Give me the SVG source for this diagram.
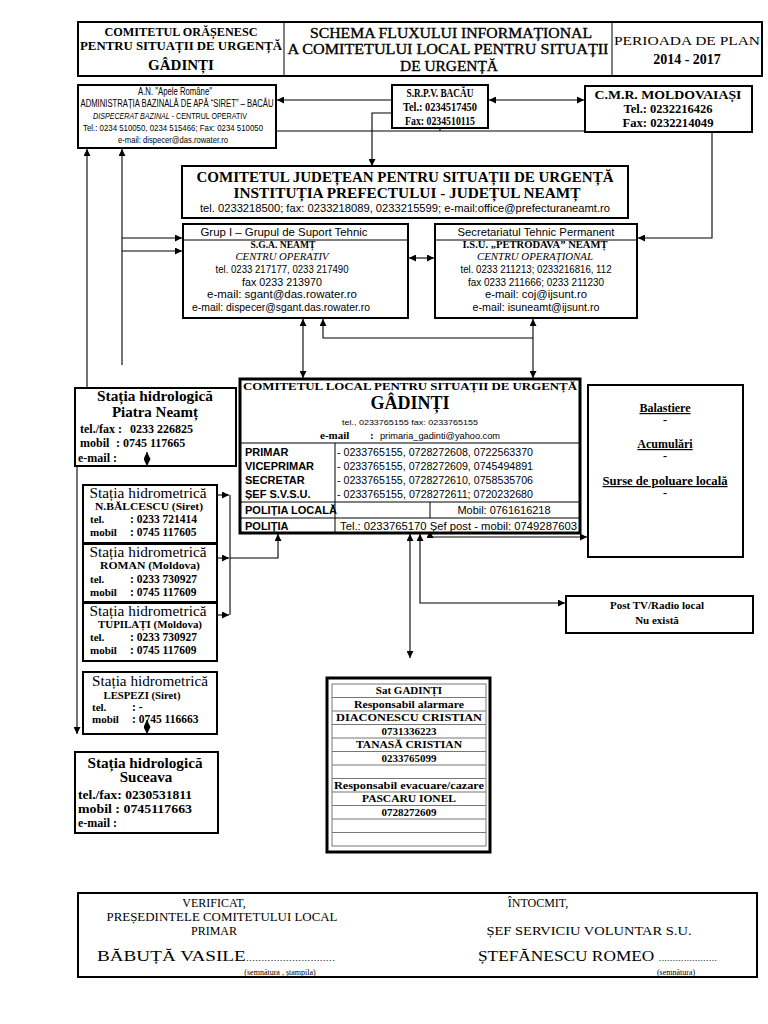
<svg xmlns="http://www.w3.org/2000/svg" width="768" height="1024" viewBox="0 0 768 1024">
<style>
.bg{fill:#fff}
.box{fill:#fff;stroke:#000;stroke-width:2}
.box3{fill:#fff;stroke:#000;stroke-width:3}
.ln{fill:none;stroke:#000;stroke-width:1}
.gl{fill:none;stroke:#777;stroke-width:1}
.con{fill:none;stroke:#000;stroke-width:1.1}
.s{font-family:"Liberation Serif","Times New Roman",serif;fill:#000}
.b{font-weight:bold}
.i{font-style:italic}
.n{font-family:"Liberation Sans Narrow","Liberation Sans",Arial,sans-serif;fill:#000}
.c{text-anchor:middle}
.u{text-decoration:underline}
</style>
<defs>
<marker id="ah" viewBox="0 0 10 10" refX="10" refY="5" markerWidth="8" markerHeight="7" markerUnits="userSpaceOnUse" orient="auto-start-reverse"><path d="M0,0 L10,5 L0,10 z" fill="#000"/></marker>
</defs>
<rect class="bg" x="0" y="0" width="768" height="1024"/>

<g id="connectors">
<path class="con" d="M392,100 H277" marker-end="url(#ah)"/>
<path class="con" d="M489,100 H584" marker-start="url(#ah)" marker-end="url(#ah)"/>
<path class="con" d="M392,113 H372 V166" marker-end="url(#ah)"/>
<path class="con" d="M276,131 H585"/>
<path class="con" d="M440,128 V131"/>
<path class="con" d="M712,132 V238 H638" marker-end="url(#ah)"/>
<path class="con" d="M87,388 V149" marker-end="url(#ah)"/>
<path class="con" d="M122,365 V149" marker-end="url(#ah)"/>
<path class="con" d="M122,238 H182" marker-end="url(#ah)"/>
<path class="con" d="M122,251 H182" marker-end="url(#ah)"/>
<path class="con" d="M409,258 H434" marker-start="url(#ah)" marker-end="url(#ah)"/>
<path class="con" d="M303,319 V378" marker-start="url(#ah)" marker-end="url(#ah)"/>
<path class="con" d="M323,319 V338 H533" marker-start="url(#ah)"/>
<path class="con" d="M533,319 V378" marker-start="url(#ah)" marker-end="url(#ah)"/>
<path class="con" d="M77,453 V734" marker-start="url(#ah)" marker-end="url(#ah)"/>
<path class="con" d="M217,495 H229" marker-end="url(#ah)"/>
<path class="con" d="M217,558 H229" marker-end="url(#ah)"/>
<path class="con" d="M217,615 H229" marker-end="url(#ah)"/>
<path class="con" d="M230,495 V615"/>
<path class="con" d="M230,558 H278 V534" marker-end="url(#ah)"/>
<path class="con" d="M410,534 V658" marker-start="url(#ah)" marker-end="url(#ah)"/>
<path class="con" d="M420,534 V603 H565" marker-start="url(#ah)" marker-end="url(#ah)"/>
<path class="con" d="M430,531 V537 H587" marker-start="url(#ah)" marker-end="url(#ah)"/>
</g>

<g id="header">
<rect class="box" x="78" y="22" width="684" height="54"/>
<line class="ln" x1="284" y1="22" x2="284" y2="76" stroke-width="2"/>
<line class="ln" x1="612" y1="22" x2="612" y2="76" stroke-width="2"/>
<text class="s b c" x="181" y="36" font-size="12" textLength="153" lengthAdjust="spacingAndGlyphs">COMITETUL ORĂȘENESC</text>
<text class="s b c" x="181" y="50" font-size="12" textLength="202" lengthAdjust="spacingAndGlyphs">PENTRU SITUAȚII DE URGENȚĂ</text>
<text class="s b c" x="181" y="70" font-size="15">GÂDINȚI</text>
<text class="s c" x="451" y="38" font-size="15" stroke="#000" stroke-width="0.35" textLength="282" lengthAdjust="spacingAndGlyphs">SCHEMA FLUXULUI INFORMAȚIONAL</text>
<text class="s c" x="448" y="54" font-size="15" stroke="#000" stroke-width="0.35" textLength="321" lengthAdjust="spacingAndGlyphs">A COMITETULUI LOCAL PENTRU SITUAȚII</text>
<text class="s c" x="449" y="71" font-size="15" stroke="#000" stroke-width="0.35" textLength="98" lengthAdjust="spacingAndGlyphs">DE URGENȚĂ</text>
<text class="s c" x="687" y="45" font-size="12" textLength="146" lengthAdjust="spacingAndGlyphs">PERIOADA DE PLAN</text>
<text class="s b c" x="687" y="64" font-size="14">2014 - 2017</text>
</g>

<g id="apele-romane">
<rect class="box" x="78" y="85" width="198" height="63"/>
<text class="n c" x="175" y="95" font-size="10" textLength="74" lengthAdjust="spacingAndGlyphs">A.N. "Apele Române"</text>
<text class="n c" x="177" y="107" font-size="10" textLength="193" lengthAdjust="spacingAndGlyphs">ADMINISTRAȚIA BAZINALĂ DE APĂ “SIRET” – BACĂU</text>
<text transform="translate(93,119) scale(0.752,1)" x="0" y="0" font-family="'Liberation Sans',Arial,sans-serif" font-size="9.5" fill="#000"><tspan font-style="italic">DISPECERAT BAZINAL</tspan> - CENTRUL OPERATIV</text>
<text class="n c" x="173" y="131" font-size="9.5" textLength="180" lengthAdjust="spacingAndGlyphs">Tel.: 0234 510050, 0234 515466; Fax: 0234 510050</text>
<text class="n c" x="173" y="143" font-size="9.5" textLength="110" lengthAdjust="spacingAndGlyphs">e-mail: dispecer@das.rowater.ro</text>
</g>

<g id="srpv-bacau">
<rect class="box" x="392" y="85" width="96" height="43"/>
<text class="s b c" x="440" y="97" font-size="11.5" textLength="67" lengthAdjust="spacingAndGlyphs">S.R.P.V. BACĂU</text>
<text class="s b c" x="440" y="111" font-size="11.5" textLength="74" lengthAdjust="spacingAndGlyphs">Tel.: 0234517450</text>
<text class="s b c" x="440" y="125" font-size="11.5" textLength="70" lengthAdjust="spacingAndGlyphs">Fax: 0234510115</text>
</g>

<g id="cmr-moldova">
<rect class="box" x="585" y="86" width="167" height="46"/>
<text class="s b c" x="668" y="99" font-size="12.5" textLength="147" lengthAdjust="spacingAndGlyphs">C.M.R. MOLDOVAIAȘI</text>
<text class="s b c" x="668" y="113" font-size="12.5" textLength="89" lengthAdjust="spacingAndGlyphs">Tel.: 0232216426</text>
<text class="s b c" x="668" y="127" font-size="12.5" textLength="91" lengthAdjust="spacingAndGlyphs">Fax: 0232214049</text>
</g>

<g id="cjsu-neamt">
<rect class="box" x="182" y="166" width="446" height="52" stroke-width="2.5"/>
<text class="s b c" x="405" y="182" font-size="15" textLength="417" lengthAdjust="spacingAndGlyphs">COMITETUL JUDEȚEAN PENTRU SITUAȚII DE URGENȚĂ</text>
<text class="s b c" x="407" y="198" font-size="15" textLength="347" lengthAdjust="spacingAndGlyphs">INSTITUȚIA PREFECTULUI -  JUDEȚUL NEAMȚ</text>
<text class="n c" x="405" y="212" font-size="11" textLength="410" lengthAdjust="spacingAndGlyphs">tel. 0233218500; fax: 0233218089, 0233215599; e-mail:office@prefecturaneamt.ro</text>
</g>

<g id="grup-suport">
<rect class="box" x="183" y="224" width="225" height="94"/>
<line class="ln" x1="183" y1="240" x2="408" y2="240"/>
<text class="n c" x="284" y="236" font-size="11" textLength="167" lengthAdjust="spacingAndGlyphs">Grup I – Grupul de Suport Tehnic</text>
<text class="s b c" x="283" y="248" font-size="9.5" textLength="65" lengthAdjust="spacingAndGlyphs">S.G.A. NEAMȚ</text>
<text class="s i c" x="282" y="260" font-size="10.5" textLength="93" lengthAdjust="spacingAndGlyphs">CENTRU OPERATIV</text>
<text class="n c" x="282" y="273" font-size="10.5" textLength="133" lengthAdjust="spacingAndGlyphs">tel. 0233 217177, 0233 217490</text>
<text class="n c" x="282" y="286" font-size="10.5" textLength="80" lengthAdjust="spacingAndGlyphs">fax 0233 213970</text>
<text class="n c" x="282" y="298" font-size="10.5" textLength="150" lengthAdjust="spacingAndGlyphs">e-mail: sgant@das.rowater.ro</text>
<text class="n c" x="281" y="311" font-size="10.5" textLength="178" lengthAdjust="spacingAndGlyphs">e-mail: dispecer@sgant.das.rowater.ro</text>
</g>

<g id="secretariat">
<rect class="box" x="435" y="224" width="202" height="94"/>
<line class="ln" x1="435" y1="240" x2="637" y2="240"/>
<text class="n c" x="536" y="236" font-size="11" textLength="157" lengthAdjust="spacingAndGlyphs">Secretariatul Tehnic Permanent</text>
<text class="s b c" x="535" y="248" font-size="9.5" textLength="145" lengthAdjust="spacingAndGlyphs">I.S.U. „PETRODAVA” NEAMȚ</text>
<text class="s i c" x="535" y="260" font-size="10.5" textLength="116" lengthAdjust="spacingAndGlyphs">CENTRU OPERAȚIONAL</text>
<text class="n c" x="536" y="273" font-size="10.5" textLength="151" lengthAdjust="spacingAndGlyphs">tel. 0233 211213; 0233216816, 112</text>
<text class="n c" x="536" y="286" font-size="10.5" textLength="136" lengthAdjust="spacingAndGlyphs">fax 0233 211666; 0233 211230</text>
<text class="n c" x="536" y="298" font-size="10.5" textLength="102" lengthAdjust="spacingAndGlyphs">e-mail: coj@ijsunt.ro</text>
<text class="n c" x="536" y="311" font-size="10.5" textLength="127" lengthAdjust="spacingAndGlyphs">e-mail: isuneamt@ijsunt.ro</text>
</g>

<g id="clsu-gadinti">
<rect class="box3" x="240" y="379" width="340" height="154"/>
<text class="s b" x="243" y="390" font-size="10.5" textLength="334" lengthAdjust="spacingAndGlyphs">COMITETUL LOCAL PENTRU SITUAȚII DE URGENȚĂ</text>
<text class="s b c" x="410" y="409" font-size="18">GÂDINȚI</text>
<text class="n c" x="410" y="425" font-size="8" textLength="136" lengthAdjust="spacingAndGlyphs">tel., 0233765155  fax: 0233765155</text>
<text class="s b" x="320" y="439" font-size="11">e-mail</text>
<text class="s b" x="370" y="439" font-size="11">:</text>
<text class="n" x="380" y="439" font-size="9" textLength="120" lengthAdjust="spacingAndGlyphs">primaria_gadinti@yahoo.com</text>
<line class="ln" x1="240" y1="443" x2="580" y2="443"/>
<line class="ln" x1="335" y1="443" x2="335" y2="533"/>
<line class="ln" x1="240" y1="502" x2="580" y2="502"/>
<line class="ln" x1="240" y1="518" x2="580" y2="518"/>
<line class="ln" x1="430" y1="502" x2="430" y2="518"/>
<text class="n b" x="245" y="456" font-size="11">PRIMAR</text>
<text class="n b" x="245" y="470" font-size="11">VICEPRIMAR</text>
<text class="n b" x="245" y="484" font-size="11">SECRETAR</text>
<text class="n b" x="245" y="498" font-size="11">ȘEF S.V.S.U.</text>
<text class="n b" x="245" y="514" font-size="11">POLIȚIA LOCALĂ</text>
<text class="n b" x="245" y="530" font-size="11">POLIȚIA</text>
<text class="n" x="337" y="456" font-size="11" textLength="196" lengthAdjust="spacingAndGlyphs">- 0233765155, 0728272608, 0722563370</text>
<text class="n" x="337" y="470" font-size="11" textLength="196" lengthAdjust="spacingAndGlyphs">- 0233765155, 0728272609, 0745494891</text>
<text class="n" x="337" y="484" font-size="11" textLength="196" lengthAdjust="spacingAndGlyphs">- 0233765155, 0728272610, 0758535706</text>
<text class="n" x="337" y="498" font-size="11" textLength="196" lengthAdjust="spacingAndGlyphs">- 0233765155, 0728272611; 0720232680</text>
<text class="n c" x="504" y="514" font-size="11" textLength="93" lengthAdjust="spacingAndGlyphs">Mobil: 0761616218</text>
<text class="n" x="340" y="530" font-size="11" textLength="237" lengthAdjust="spacingAndGlyphs">Tel.:  0233765170  Șef post - mobil: 0749287603</text>
</g>

<g id="riscuri-locale">
<rect class="box" x="588" y="385" width="155" height="172"/>
<text class="s b c u" x="665" y="412" font-size="12">Balastiere </text>
<text class="s b c" x="665" y="424" font-size="12">-</text>
<text class="s b c u" x="665" y="448" font-size="12">Acumulări</text>
<text class="s b c" x="665" y="460" font-size="12">-</text>
<text class="s b c u" x="665" y="485" font-size="12" textLength="125" lengthAdjust="spacingAndGlyphs">Surse de poluare locală</text>
<text class="s b c" x="665" y="497" font-size="12">-</text>
</g>

<g id="statia-piatra-neamt">
<rect class="box" x="75" y="388" width="161" height="78"/>
<text class="s b c" x="155" y="401" font-size="15" textLength="116" lengthAdjust="spacingAndGlyphs">Stația hidrologică</text>
<text class="s b c" x="155" y="417" font-size="15">Piatra Neamț</text>
<text class="s b" x="80" y="433" font-size="12">tel./fax :</text>
<text class="s b" x="130" y="433" font-size="12">0233 226825</text>
<text class="s b" x="80" y="447" font-size="12">mobil</text>
<text class="s b" x="116" y="447" font-size="12">:  0745 117665</text>
<text class="s b" x="78" y="462" font-size="12">e-mail  :</text>
<path class="con" d="M147,452 V466" marker-start="url(#ah)" marker-end="url(#ah)"/>
</g>

<g id="statia-balcescu">
<rect class="box" x="83" y="485" width="134" height="58"/>
<text class="s c" x="148" y="498" font-size="14.5" textLength="117" lengthAdjust="spacingAndGlyphs">Stația hidrometrică</text>
<text class="s b c" x="149" y="510" font-size="11" textLength="108" lengthAdjust="spacingAndGlyphs">N.BĂLCESCU (Siret)</text>
<text class="s b" x="90" y="523" font-size="11">tel.</text>
<text class="s b" x="130" y="523" font-size="11.5">: 0233 721414</text>
<text class="s b" x="90" y="536" font-size="11">mobil</text>
<text class="s b" x="130" y="536" font-size="11.5">: 0745 117605</text>
</g>

<g id="statia-roman">
<rect class="box" x="83" y="544" width="134" height="58"/>
<text class="s c" x="148" y="557" font-size="14.5" textLength="117" lengthAdjust="spacingAndGlyphs">Stația hidrometrică</text>
<text class="s b c" x="150" y="569" font-size="11" textLength="100" lengthAdjust="spacingAndGlyphs">ROMAN (Moldova)</text>
<text class="s b" x="90" y="583" font-size="11">tel.</text>
<text class="s b" x="130" y="583" font-size="11.5">: 0233 730927</text>
<text class="s b" x="90" y="596" font-size="11">mobil</text>
<text class="s b" x="130" y="596" font-size="11.5">: 0745 117609</text>
</g>

<g id="statia-tupilati">
<rect class="box" x="83" y="603" width="134" height="58"/>
<text class="s c" x="148" y="616" font-size="14.5" textLength="117" lengthAdjust="spacingAndGlyphs">Stația hidrometrică</text>
<text class="s b c" x="150" y="628" font-size="11" textLength="104" lengthAdjust="spacingAndGlyphs">TUPILAȚI (Moldova)</text>
<text class="s b" x="90" y="641" font-size="11">tel.</text>
<text class="s b" x="130" y="641" font-size="11.5">: 0233 730927</text>
<text class="s b" x="90" y="654" font-size="11">mobil</text>
<text class="s b" x="130" y="654" font-size="11.5">: 0745 117609</text>
</g>

<g id="statia-lespezi">
<rect class="box" x="83" y="672" width="134" height="62"/>
<text class="s c" x="150" y="686" font-size="14.5" textLength="116" lengthAdjust="spacingAndGlyphs">Stația hidrometrică</text>
<text class="s b c" x="142" y="699" font-size="11" textLength="77" lengthAdjust="spacingAndGlyphs">LESPEZI (Siret)</text>
<text class="s b" x="92" y="711" font-size="11">tel.</text>
<text class="s b" x="132" y="711" font-size="11.5">: -</text>
<text class="s b" x="92" y="723" font-size="11">mobil</text>
<text class="s b" x="132" y="723" font-size="11.5">: 0745 116663</text>
<path class="con" d="M147,720 V734" marker-start="url(#ah)" marker-end="url(#ah)"/>
</g>

<g id="statia-suceava">
<rect class="box" x="75" y="752" width="143" height="81"/>
<text class="s b c" x="145" y="768" font-size="15" textLength="115" lengthAdjust="spacingAndGlyphs">Stația hidrologică</text>
<text class="s b c" x="146" y="782" font-size="15">Suceava</text>
<text class="s b" x="78" y="799" font-size="12" textLength="114" lengthAdjust="spacingAndGlyphs">tel./fax:  0230531811</text>
<text class="s b" x="78" y="813" font-size="12" textLength="114" lengthAdjust="spacingAndGlyphs">mobil  :  0745117663</text>
<text class="s b" x="78" y="827" font-size="12">e-mail :</text>
</g>

<g id="post-tv">
<rect class="box" x="566" y="596" width="187" height="37"/>
<text class="s b c" x="657" y="609" font-size="11">Post TV/Radio  local</text>
<text class="s b c" x="657" y="624" font-size="11">Nu există</text>
</g>

<g id="sat-gadinti">
<rect class="box3" x="327" y="678" width="163" height="174"/>
<rect class="gl" x="332" y="684" width="154" height="162"/>
<g class="gl">
<line x1="332" y1="697.5" x2="486" y2="697.5"/>
<line x1="332" y1="711" x2="486" y2="711"/>
<line x1="332" y1="724.5" x2="486" y2="724.5"/>
<line x1="332" y1="738" x2="486" y2="738"/>
<line x1="332" y1="751.5" x2="486" y2="751.5"/>
<line x1="332" y1="765" x2="486" y2="765"/>
<line x1="332" y1="778.5" x2="486" y2="778.5"/>
<line x1="332" y1="792" x2="486" y2="792"/>
<line x1="332" y1="805.5" x2="486" y2="805.5"/>
<line x1="332" y1="819" x2="486" y2="819"/>
<line x1="332" y1="832.5" x2="486" y2="832.5"/>
</g>
<text class="s b c" x="409" y="694" font-size="11">Sat  GADINȚI</text>
<text class="s b c" x="409" y="708" font-size="11" textLength="110" lengthAdjust="spacingAndGlyphs">Responsabil alarmare</text>
<text class="s b c" x="409" y="721" font-size="11" textLength="146" lengthAdjust="spacingAndGlyphs">DIACONESCU CRISTIAN</text>
<text class="s b c" x="409" y="735" font-size="11">0731336223</text>
<text class="s b c" x="409" y="748" font-size="11" textLength="106" lengthAdjust="spacingAndGlyphs">TANASĂ CRISTIAN</text>
<text class="s b c" x="409" y="762" font-size="11">0233765099</text>
<text class="s b c" x="409" y="789" font-size="11" textLength="150" lengthAdjust="spacingAndGlyphs">Responsabil evacuare/cazare</text>
<text class="s b c" x="409" y="802" font-size="11" textLength="94" lengthAdjust="spacingAndGlyphs">PASCARU IONEL</text>
<text class="s b c" x="409" y="816" font-size="11">0728272609</text>
</g>

<g id="semnaturi">
<rect class="box" x="78" y="893" width="679" height="84"/>
<text class="s c" x="214" y="907" font-size="12">VERIFICAT,</text>
<text class="s c" x="222" y="921" font-size="12" textLength="231" lengthAdjust="spacingAndGlyphs">PREȘEDINTELE COMITETULUI LOCAL</text>
<text class="s c" x="214" y="935" font-size="12">PRIMAR</text>
<text class="s" x="97" y="961" font-size="14" textLength="238" lengthAdjust="spacingAndGlyphs">BĂBUȚĂ  VASILE<tspan font-size="9">.............................</tspan></text>
<text class="s c" x="280" y="975" font-size="8">(semnătura , ștampila)</text>
<text class="s c" x="538" y="907" font-size="12">ÎNTOCMIT,</text>
<text class="s c" x="589" y="935" font-size="12" textLength="205" lengthAdjust="spacingAndGlyphs">ȘEF SERVICIU VOLUNTAR  S.U.</text>
<text class="s" x="478" y="961" font-size="14" textLength="239" lengthAdjust="spacingAndGlyphs">ȘTEFĂNESCU ROMEO <tspan font-size="9">.....................</tspan></text>
<text class="s c" x="676" y="975" font-size="8">(semnătura)</text>
</g>
</svg>
